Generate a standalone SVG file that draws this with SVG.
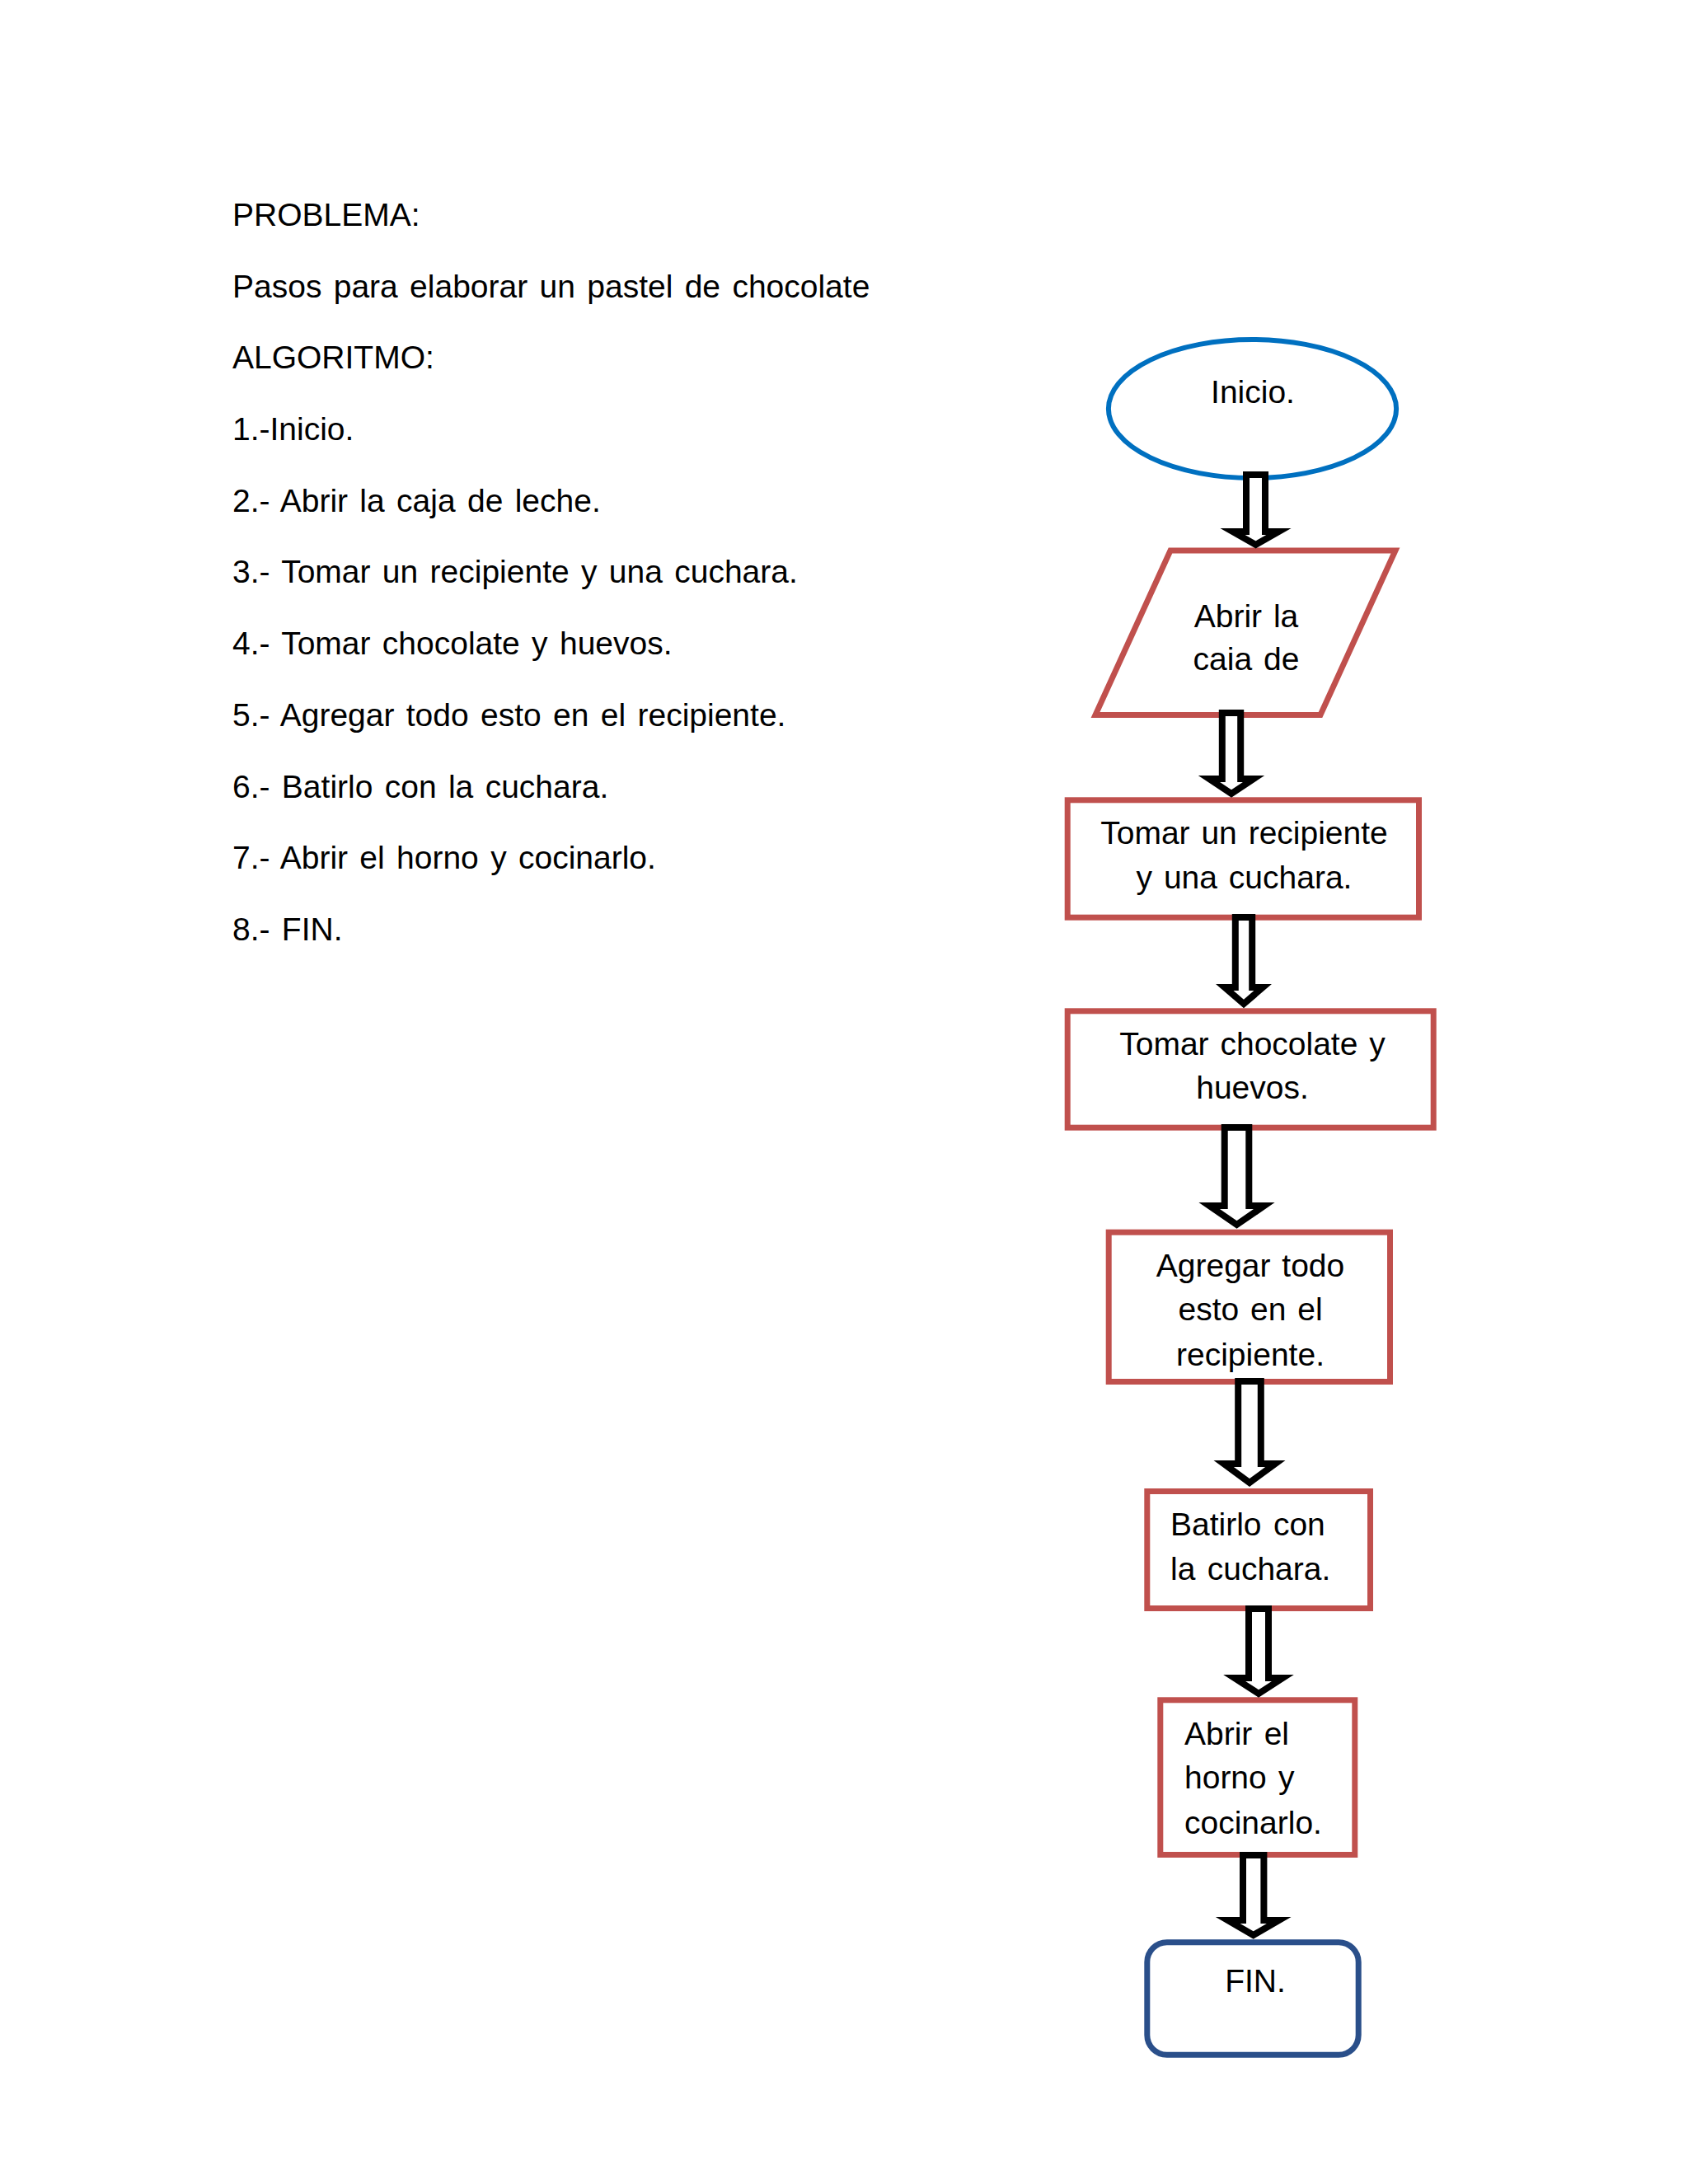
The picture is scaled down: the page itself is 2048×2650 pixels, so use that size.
<svg xmlns="http://www.w3.org/2000/svg" width="2048" height="2650" viewBox="0 0 2048 2650">
<style>
  text { font-family: "Liberation Sans", Arial, sans-serif; font-size: 39px; fill: #000; }
  .l { word-spacing: 3.5px; }
  .c { text-anchor: middle; word-spacing: 3px; }
  .proc { fill: #fff; stroke: #C0504D; stroke-width: 7; }
  .term { fill: #fff; stroke: #0070C0; stroke-width: 6; }
  .end { fill: #fff; stroke: #2A4F8A; stroke-width: 7; }
  .arrow { fill: #fff; stroke: #000; stroke-width: 8; stroke-linejoin: miter; }
</style>
<rect x="0" y="0" width="2048" height="2650" fill="#fff"/>

<g id="algoritmo-texto">
  <text class="l" x="282" y="274">PROBLEMA:</text>
  <text class="l" x="282" y="361">Pasos para elaborar un pastel de chocolate</text>
  <text class="l" x="282" y="447">ALGORITMO:</text>
  <text class="l" x="282" y="534">1.-Inicio.</text>
  <text class="l" x="282" y="621">2.- Abrir la caja de leche.</text>
  <text class="l" x="282" y="707">3.- Tomar un recipiente y una cuchara.</text>
  <text class="l" x="282" y="794">4.- Tomar chocolate y huevos.</text>
  <text class="l" x="282" y="881">5.- Agregar todo esto en el recipiente.</text>
  <text class="l" x="282" y="968">6.- Batirlo con la cuchara.</text>
  <text class="l" x="282" y="1054">7.- Abrir el horno y cocinarlo.</text>
  <text class="l" x="282" y="1141">8.- FIN.</text>
</g>

<g id="n-inicio">
  <ellipse class="term" cx="1519.5" cy="496" rx="174.6" ry="84"/>
  <text class="c" x="1520" y="489">Inicio.</text>
</g>

<g id="n-abrir-caja">
  <polygon class="proc" points="1420,668 1693,668 1602,867.5 1329,867.5"/>
  <text class="c" x="1512" y="761">Abrir la</text>
  <text class="c" x="1512" y="813">caia de</text>
</g>

<g id="n-tomar-recipiente">
  <rect class="proc" x="1295.2" y="970.8" width="426.3" height="142.4"/>
  <text class="c" x="1509.5" y="1024">Tomar un recipiente</text>
  <text class="c" x="1509.5" y="1078">y una cuchara.</text>
</g>

<g id="n-tomar-chocolate">
  <rect class="proc" x="1295.2" y="1226.8" width="444" height="141.4"/>
  <text class="c" x="1519.5" y="1280">Tomar chocolate y</text>
  <text class="c" x="1519.5" y="1333">huevos.</text>
</g>

<g id="n-agregar">
  <rect class="proc" x="1345.2" y="1495.2" width="341.3" height="181.3"/>
  <text class="c" x="1517" y="1549">Agregar todo</text>
  <text class="c" x="1517" y="1602">esto en el</text>
  <text class="c" x="1517" y="1657">recipiente.</text>
</g>

<g id="n-batir">
  <rect class="proc" x="1391.8" y="1809.5" width="270.7" height="142"/>
  <text class="l" x="1420" y="1863">Batirlo con</text>
  <text class="l" x="1420" y="1917">la cuchara.</text>
</g>

<g id="n-horno">
  <rect class="proc" x="1407.8" y="2062.8" width="236" height="187.7"/>
  <text class="l" x="1437" y="2117">Abrir el</text>
  <text class="l" x="1437" y="2170">horno y</text>
  <text class="l" x="1437" y="2225">cocinarlo.</text>
</g>

<g id="n-fin">
  <rect class="end" x="1391.8" y="2356.8" width="256.4" height="136.4" rx="24" ry="24"/>
  <text class="c" x="1523" y="2417">FIN.</text>
</g>

<g id="connectors">
  <polygon class="arrow" points="1512,576 1535,576 1535,645 1551.5,645 1523.5,661 1495.5,645 1512,645"/>
  <polygon class="arrow" points="1482.8,865 1505.2,865 1505.2,945 1521,945 1494,963 1467,945 1482.8,945"/>
  <polygon class="arrow" points="1498.8,1113 1519.2,1113 1519.2,1198 1532.2,1198 1509,1218 1485.8,1198 1498.8,1198"/>
  <polygon class="arrow" points="1485.7,1368 1515.3,1368 1515.3,1463 1533.8,1463 1500.5,1486 1467.2,1463 1485.7,1463"/>
  <polygon class="arrow" points="1502.2,1676 1529.8,1676 1529.8,1776 1547.3,1776 1516,1799 1484.7,1776 1502.2,1776"/>
  <polygon class="arrow" points="1515,1952 1539,1952 1539,2036 1556.3,2036 1527,2055 1497.7,2036 1515,2036"/>
  <polygon class="arrow" points="1508,2251 1533.4,2251 1533.4,2330 1551.7,2330 1520.7,2348 1489.7,2330 1508,2330"/>
</g>
</svg>
